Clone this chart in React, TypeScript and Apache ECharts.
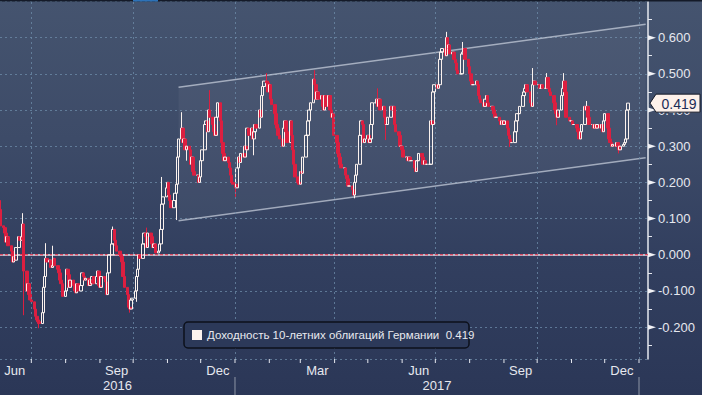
import React, { useEffect, useRef } from 'react';
import * as echarts from 'echarts';

const DAY = 86400000;
const ts = (s: string) => Date.parse(s + 'T00:00:00Z');

// ---------- data (daily closes) ----------
const startDate = '2016-06-02';
const firstOpen = 0.15;
const yields2016 = [
  0.125, 0.080,
  0.075, 0.060, 0.035, 0.050, 0.025,
  0.010, -0.020, -0.005, -0.015, 0.020,
  0.050, 0.040, 0.050, 0.085, -0.045,
  -0.100, -0.080, -0.110, -0.125, -0.130,
  -0.150, -0.170, -0.180, -0.185, -0.190,
  -0.160, -0.090, -0.060, -0.010, -0.020,
  -0.015, -0.035, -0.030, -0.010, -0.030,
  -0.040, -0.050, -0.070, -0.080, -0.115,
  -0.100, -0.040, -0.055, -0.090, -0.070,
  -0.085, -0.100, -0.105, -0.080, -0.100,
  -0.085, -0.050, -0.060, -0.070, -0.065,
  -0.085, -0.070, -0.080, -0.060, -0.080,
  -0.060, -0.045, -0.085, -0.090, -0.060,
  -0.065, -0.075, -0.110, -0.050, 0.000,
  0.030, 0.070, 0.040, 0.025, 0.010,
  0.000, -0.005, -0.020, -0.060, -0.090,
  -0.110, -0.145, -0.150, -0.125, -0.120,
  -0.100, -0.060, -0.040, 0.000, -0.010,
  0.030, 0.060, 0.050, 0.020, 0.060,
  0.050, 0.030, 0.020, 0.030, 0.005,
  0.010, 0.030, 0.070, 0.140, 0.160,
  0.185, 0.200, 0.165, 0.150, 0.130,
  0.150, 0.170, 0.195, 0.270, 0.320,
  0.350, 0.310, 0.320, 0.290, 0.300,
  0.290, 0.250, 0.270, 0.230, 0.220,
  0.220, 0.200, 0.215, 0.260, 0.290,
  0.360, 0.370, 0.340, 0.400, 0.380,
  0.360, 0.340, 0.330, 0.380, 0.420,
  0.370, 0.310, 0.280, 0.260, 0.270,
  0.255, 0.240, 0.220, 0.200, 0.195,
];
const yields2017 = [
  0.185, 0.240, 0.270, 0.255, 0.280,
  0.270, 0.300, 0.290, 0.350, 0.330,
  0.350, 0.320, 0.340, 0.360, 0.350,
  0.400, 0.380, 0.440, 0.465, 0.480,
  0.475, 0.450, 0.470, 0.430, 0.415,
  0.390, 0.360, 0.350, 0.330, 0.320,
  0.300, 0.350, 0.370, 0.340, 0.310,
  0.370, 0.330, 0.290, 0.250, 0.215,
  0.200, 0.195, 0.230, 0.225, 0.270,
  0.330, 0.330, 0.370, 0.400, 0.420,
  0.485, 0.470, 0.430, 0.450, 0.430,
  0.440, 0.410, 0.400, 0.440, 0.410,
  0.440, 0.400, 0.380, 0.390, 0.330,
  0.310, 0.280, 0.270, 0.250, 0.240,
  0.240, 0.220, 0.210, 0.190, 0.190,
  0.180, 0.165, 0.200, 0.220, 0.250,
  0.330, 0.370, 0.360, 0.310, 0.320,
  0.330, 0.310, 0.320, 0.360, 0.420,
  0.420, 0.430, 0.410, 0.430, 0.400,
  0.410, 0.380, 0.360, 0.360, 0.380,
  0.410, 0.400, 0.410, 0.360, 0.340,
  0.330, 0.300, 0.300, 0.290, 0.270,
  0.270, 0.260, 0.270, 0.260, 0.260,
  0.240, 0.230, 0.260, 0.260, 0.280,
  0.270, 0.250, 0.260, 0.250, 0.250,
  0.250, 0.370, 0.360, 0.450, 0.470,
  0.460, 0.470, 0.540, 0.560, 0.570,
  0.550, 0.600, 0.570, 0.580, 0.555,
  0.560, 0.540, 0.530, 0.510, 0.500,
  0.500, 0.555, 0.560, 0.570, 0.540,
  0.520, 0.500, 0.480, 0.470, 0.470,
  0.480, 0.470, 0.440, 0.430, 0.420,
  0.410, 0.430, 0.440, 0.420, 0.410,
  0.410, 0.400, 0.390, 0.380, 0.380,
  0.370, 0.360, 0.370, 0.360, 0.370,
  0.350, 0.330, 0.320, 0.310, 0.310,
  0.340, 0.370, 0.390, 0.390, 0.410,
  0.440, 0.450, 0.460, 0.470, 0.450,
  0.420, 0.410, 0.470, 0.480, 0.470,
  0.470, 0.460, 0.460, 0.470, 0.460,
  0.460, 0.490, 0.460, 0.450, 0.440,
  0.420, 0.400, 0.390, 0.380, 0.400,
  0.440, 0.460, 0.480, 0.450, 0.380,
  0.370, 0.370, 0.370, 0.360, 0.360,
  0.350, 0.340, 0.320, 0.340, 0.360,
  0.410, 0.400, 0.410, 0.380, 0.360,
  0.360, 0.350, 0.360, 0.350, 0.360,
  0.350, 0.360, 0.340, 0.370, 0.390,
  0.350, 0.320, 0.310, 0.300, 0.305,
  0.300, 0.310, 0.300, 0.290, 0.300,
  0.305, 0.310, 0.320, 0.400, 0.419,
];
const wickHighs: [string, number][] = [
  ['2016-06-23', 0.115], ['2016-07-14', 0.032], ['2016-07-20', 0.025], ['2016-09-13', 0.078],
  ['2016-10-13', 0.075], ['2016-10-27', 0.215], ['2016-11-14', 0.394], ['2016-12-09', 0.455],
  ['2017-01-30', 0.502], ['2017-03-14', 0.510], ['2017-05-10', 0.460], ['2017-07-11', 0.616],
  ['2017-07-26', 0.588], ['2017-09-27', 0.516], ['2017-10-10', 0.502], ['2017-10-25', 0.502],
  ['2017-11-15', 0.425],
];
const wickLows: [string, number][] = [
  ['2016-06-24', -0.167], ['2016-07-08', -0.203], ['2016-09-28', -0.160], ['2016-10-04', -0.130],
  ['2016-11-09', 0.096], ['2016-11-18', 0.260], ['2017-01-02', 0.160], ['2017-01-18', 0.275],
  ['2017-04-19', 0.156], ['2017-05-17', 0.317], ['2017-09-06', 0.298], ['2017-10-19', 0.358],
  ['2017-12-14', 0.280],
];
const seriesName = 'Доходность 10-летних облигаций Германии';
const lastValue = 0.419;
const zeroLevel = 0;

// trend channel (start / end: date, upper, lower)
const channelStart: [string, number, number] = ['2016-11-11', 0.463, 0.094];
const channelEnd: [string, number, number] = ['2018-01-07', 0.637, 0.268];

// axes
const axisStart = Date.UTC(2016, 5, 2, 17);
const axisEnd = Date.UTC(2018, 0, 9, 3);
const yMin = -0.288;
const yMax = 0.704;
const yTickValues = [-0.2, -0.1, 0, 0.1, 0.2, 0.3, 0.4, 0.5, 0.6];
const labelMonths = ['2016-06', '2016-09', '2016-12', '2017-03', '2017-06', '2017-09', '2017-12'];
const monthNames = ['Jan', 'Feb', 'Mar', 'Apr', 'May', 'Jun', 'Jul', 'Aug', 'Sep', 'Oct', 'Nov', 'Dec'];
const yearLabels = [2016, 2017];
const gridMonths = ['2016-07', '2016-10', '2017-01', '2017-04', '2017-07', '2017-10', '2018-01'];

// ---------- build ----------
const closes = [...yields2016, ...yields2017];
const dates: number[] = [];
{
  let d = ts(startDate);
  while (dates.length < closes.length) {
    const wd = new Date(d).getUTCDay();
    if (wd !== 0 && wd !== 6) dates.push(d);
    d += DAY;
  }
}
const highMap = new Map(wickHighs.map(([s, v]) => [ts(s), v] as [number, number]));
const lowMap = new Map(wickLows.map(([s, v]) => [ts(s), v] as [number, number]));
const candles = closes.map((c, i) => {
  const o = i === 0 ? firstOpen : closes[i - 1];
  const hi = Math.max(o, c, highMap.has(dates[i]) ? (highMap.get(dates[i]) as number) : -Infinity);
  const lo = Math.min(o, c, lowMap.has(dates[i]) ? (lowMap.get(dates[i]) as number) : Infinity);
  return [dates[i], o, c, lo, hi];
});

const FONT = '"Liberation Sans", Arial, sans-serif';
const AX = '#e6e8ef';
const GRID = 'rgba(110,140,170,0.75)';

export default function App() {
  const ref = useRef<HTMLDivElement>(null);
  useEffect(() => {
    if (!ref.current) return;
    const chart = echarts.init(ref.current, undefined, { renderer: 'svg' });
    const c0 = ts(channelStart[0]);
    const c1 = ts(channelEnd[0]);
    const shownTicks = new Set(yTickValues.map((v) => v.toFixed(3)));
    chart.setOption({
      animation: false,
      backgroundColor: 'transparent',
      grid: { left: 0, right: 54, top: 0, bottom: 36, containLabel: false },
      xAxis: {
        type: 'time',
        min: axisStart,
        max: axisEnd,
        axisLine: { show: true, lineStyle: { color: AX, width: 1.5 } },
        axisTick: { show: false },
        axisLabel: { show: false },
        splitLine: { show: false },
      },
      yAxis: {
        type: 'value',
        position: 'right',
        min: yMin,
        max: yMax,
        splitNumber: 10,
        axisLine: { show: true, lineStyle: { color: AX, width: 1.5 } },
        axisTick: { show: false },
        minorTick: { show: true, splitNumber: 2, length: 4, lineStyle: { color: AX, width: 1 } },
        axisLabel: {
          margin: 10,
          color: AX,
          fontSize: 13,
          fontFamily: FONT,
          showMinLabel: false,
          showMaxLabel: false,
          formatter: (v: number) => (shownTicks.has(v.toFixed(3)) ? v.toFixed(3) : ''),
        },
        splitLine: {
          show: true,
          lineStyle: { color: GRID, type: [2, 3], width: 1 },
        },
      },
      series: [
        {
          type: 'custom',
          name: 'channelFill',
          z: 1,
          silent: true,
          data: [[c0, channelStart[1], channelStart[2]], [c1, channelEnd[1], channelEnd[2]]],
          encode: { x: 0, y: [1, 2] },
          renderItem: (params: any, api: any) => {
            if (params.dataIndex !== 0) return null;
            const pts = [
              api.coord([c0, channelStart[1]]),
              api.coord([c1, channelEnd[1]]),
              api.coord([c1, channelEnd[2]]),
              api.coord([c0, channelStart[2]]),
            ];
            const z0 = api.coord([axisStart, zeroLevel]);
            const z1 = api.coord([axisEnd, zeroLevel]);
            return {
              type: 'group',
              children: [
                { type: 'polygon', shape: { points: pts }, style: { fill: 'rgba(255,255,255,0.045)' } },
                {
                  type: 'line',
                  shape: { x1: z0[0], y1: z0[1], x2: z1[0], y2: z1[1] },
                  style: { stroke: '#e3203c', lineWidth: 1, lineDash: [3, 2] },
                },
              ],
            };
          },
        },
        {
          type: 'line',
          name: 'upper',
          z: 2,
          silent: true,
          symbol: 'none',
          data: [[c0, channelStart[1]], [c1, channelEnd[1]]],
          lineStyle: { color: 'rgba(205,212,225,0.7)', width: 1.5 },
        },
        {
          type: 'line',
          name: 'lower',
          z: 2,
          silent: true,
          symbol: 'none',
          data: [[c0, channelStart[2]], [c1, channelEnd[2]]],
          lineStyle: { color: 'rgba(205,212,225,0.7)', width: 1.5 },
          markLine: {
            silent: true,
            symbol: 'none',
            label: { show: false },
            lineStyle: { color: GRID, type: [2, 3], width: 1 },
            data: gridMonths.map((m) => ({ xAxis: ts(m + '-01') })),
          },
        },
        {
          type: 'candlestick',
          name: seriesName,
          z: 3,
          barWidth: 3,
          data: candles,
          itemStyle: {
            color: 'rgba(0,0,0,0)',
            color0: '#dc1f40',
            borderColor: '#fbf2ee',
            borderColor0: '#dc1f40',
            borderWidth: 1,
          },
        },
        {
          type: 'custom',
          name: 'decor',
          z: 10,
          silent: true,
          data: [[axisEnd, lastValue]],
          renderItem: (params: any, api: any) => {
            if (params.dataIndex !== 0) return null;
            const children: any[] = [];
            const yb = api.coord([axisStart, yMin])[1];
            const xr = api.coord([axisEnd, yMin])[0];
            // month ticks
            let y = 2016;
            let m = 5;
            while (true) {
              const t = Date.UTC(y, m, 1);
              if (t > axisEnd) break;
              if (t >= axisStart) {
                const x = api.coord([t, yMin])[0];
                children.push({ type: 'line', shape: { x1: x, y1: yb, x2: x, y2: yb + 4 }, style: { stroke: AX, lineWidth: 1 } });
              }
              m++;
              if (m > 11) { m = 0; y++; }
            }
            // month labels
            labelMonths.forEach((s) => {
              const yy = +s.slice(0, 4);
              const mm = +s.slice(5, 7) - 1;
              const t0 = Date.UTC(yy, mm, 1);
              const t1 = Date.UTC(yy, mm + 1, 1);
              const x = api.coord([(t0 + t1) / 2, yMin])[0];
              children.push({
                type: 'text',
                x, y: yb + 11,
                style: { text: monthNames[mm], fill: AX, font: '13px ' + FONT, align: 'center', verticalAlign: 'middle', textAlign: 'center', textVerticalAlign: 'middle' },
              });
            });
            // year labels and separators
            yearLabels.forEach((yr) => {
              const t0 = Math.max(axisStart, Date.UTC(yr, 0, 1));
              const t1 = Math.min(axisEnd, Date.UTC(yr + 1, 0, 1));
              const x = api.coord([(t0 + t1) / 2, yMin])[0];
              children.push({
                type: 'text',
                x, y: yb + 26,
                style: { text: String(yr), fill: AX, font: '13px ' + FONT, align: 'center', verticalAlign: 'middle', textAlign: 'center', textVerticalAlign: 'middle' },
              });
              const ts1 = Date.UTC(yr + 1, 0, 1);
              if (ts1 <= axisEnd) {
                const xs = api.coord([ts1, yMin])[0];
                children.push({ type: 'line', shape: { x1: xs, y1: yb + 18, x2: xs, y2: yb + 40 }, style: { stroke: '#8e96a6', lineWidth: 1 } });
              }
            });
            // y tick wedges
            yTickValues.forEach((v) => {
              const yy = api.coord([axisEnd, v])[1];
              children.push({ type: 'polygon', shape: { points: [[xr, yy - 2.5], [xr + 8, yy], [xr, yy + 2.5]] }, style: { fill: '#f2f2f6' } });
            });
            // last value tag
            const ty = api.coord([axisEnd, lastValue])[1];
            const x0 = xr + 2;
            children.push({
              type: 'polygon',
              shape: { points: [[x0, ty], [x0 + 6, ty - 9], [x0 + 50, ty - 9], [x0 + 50, ty + 9], [x0 + 6, ty + 9]] },
              style: { fill: '#fdf1ea', stroke: '#151a28', lineWidth: 1 },
            });
            children.push({
              type: 'text',
              x: x0 + 29, y: ty + 0.5,
              style: { text: lastValue.toFixed(3), fill: '#1b2c56', font: '14px ' + FONT, align: 'center', verticalAlign: 'middle', textAlign: 'center', textVerticalAlign: 'middle' },
            });
            return { type: 'group', children };
          },
        },
      ],
      graphic: [
        { type: 'rect', shape: { x: 0, y: 0, width: 702, height: 1.5 }, style: { fill: '#141a28' }, z: 30 },
        { type: 'rect', shape: { x: 133, y: 0, width: 25, height: 1.5 }, style: { fill: '#2d72b8' }, z: 31 },
        {
          type: 'rect',
          shape: { x: 184, y: 322, width: 285, height: 26, r: 4 },
          style: { fill: '#2c3959', stroke: '#0c101b', lineWidth: 1.5 },
          z: 30,
        },
        { type: 'rect', shape: { x: 192, y: 330, width: 10, height: 10 }, style: { fill: '#fdf3ee' }, z: 31 },
        {
          type: 'text',
          x: 207,
          y: 335,
          style: {
            text: seriesName + '  ' + lastValue.toFixed(3),
            fill: '#e8e9ef',
            font: '11.5px ' + FONT,
            verticalAlign: 'middle',
            textVerticalAlign: 'middle',
          },
          z: 31,
        },
      ],
    });
    return () => chart.dispose();
  }, []);
  return (
    <div
      ref={ref}
      style={{
        position: 'fixed',
        left: 0,
        top: 0,
        width: 702,
        height: 395,
        background: 'linear-gradient(180deg, #45546f 0%, #3d4b68 35%, #323f5f 65%, #2b3757 100%)',
      }}
    />
  );
}
